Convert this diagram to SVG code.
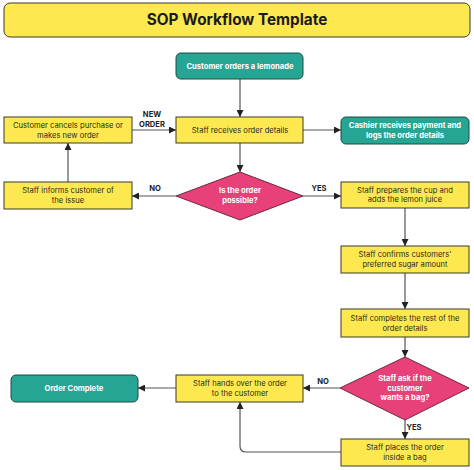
<svg xmlns="http://www.w3.org/2000/svg" width="474" height="470" viewBox="0 0 474 470">
<style>
.y{fill:#fde94f;stroke:#3a3a2a;stroke-width:1}
.t{fill:#26a595;stroke:#1f4a44;stroke-width:1}
.d{fill:#e8417a;stroke:#6a2a3a;stroke-width:1}
text{font-family:Inter,"Liberation Sans",sans-serif;text-anchor:middle}
.n{font-size:7.6px;fill:#2a2a1a}
.w{font-size:7.6px;fill:#ffffff;font-weight:bold}
.l{font-size:7.6px;fill:#222;font-weight:bold}
.c{fill:none;stroke:#555;stroke-width:1.2}
</style>
<defs>
<marker id="a" viewBox="0 0 10 10" refX="10" refY="5" markerWidth="7" markerHeight="7" markerUnits="userSpaceOnUse" orient="auto">
<path d="M0,0 L10,5 L0,10 z" fill="#222"/>
</marker>
</defs>
<g id="title">
<rect x="4" y="3" width="466" height="34" rx="6" class="y"/>
<text x="237" y="25" style="font-size:15.3px;font-weight:bold;fill:#1a1a1a">SOP Workflow Template</text>
</g>
<g id="connectors">
<path class="c" marker-end="url(#a)" d="M240,79 V117"/>
<path class="c" marker-end="url(#a)" d="M132,130 H176"/>
<path class="c" marker-end="url(#a)" d="M303,130 H341"/>
<path class="c" marker-end="url(#a)" d="M240,143 V172"/>
<path class="c" marker-end="url(#a)" d="M176,196 H132"/>
<path class="c" marker-end="url(#a)" d="M68,182 V143"/>
<path class="c" marker-end="url(#a)" d="M303,196 H341"/>
<path class="c" marker-end="url(#a)" d="M405,208 V246"/>
<path class="c" marker-end="url(#a)" d="M405,273 V309"/>
<path class="c" marker-end="url(#a)" d="M405,337 V357"/>
<path class="c" marker-end="url(#a)" d="M340,388 H303"/>
<path class="c" marker-end="url(#a)" d="M176,388 H138"/>
<path class="c" marker-end="url(#a)" d="M405,420 V439"/>
<path class="c" marker-end="url(#a)" d="M341,452 H246 Q240,452 240,446 V402"/>
<text class="l" x="152" y="117">NEW</text>
<text class="l" x="152" y="127">ORDER</text>
<text class="l" x="155" y="191">NO</text>
<text class="l" x="319" y="191">YES</text>
<text class="l" x="323" y="384">NO</text>
<text class="l" x="414" y="430">YES</text>
</g>
<g id="start">
<rect x="176" y="53" width="127" height="26" rx="5" class="t"/>
<text class="w" x="240" y="68.5">Customer orders a lemonade</text>
</g>
<g id="receive">
<rect x="176" y="117" width="127" height="26" class="y"/>
<text class="n" x="240" y="132.5">Staff receives order details</text>
</g>
<g id="cancel">
<rect x="4" y="117" width="128" height="26" class="y"/>
<text class="n" x="68" y="128">Customer cancels purchase or</text>
<text class="n" x="68" y="137.5">makes new order</text>
</g>
<g id="cashier">
<rect x="341" y="117" width="128" height="27" rx="5" class="t"/>
<text class="w" x="405" y="128">Cashier receives payment and</text>
<text class="w" x="405" y="137.5">logs the order details</text>
</g>
<g id="possible">
<polygon points="240,172 303,196 240,220 176,196" class="d"/>
<text class="w" x="240" y="193">Is the order</text>
<text class="w" x="240" y="202.5">possible?</text>
</g>
<g id="inform">
<rect x="4" y="182" width="128" height="27" class="y"/>
<text class="n" x="68" y="193">Staff informs customer of</text>
<text class="n" x="68" y="202.5">the issue</text>
</g>
<g id="prepare">
<rect x="341" y="182" width="128" height="26" class="y"/>
<text class="n" x="405" y="192.5">Staff prepares the cup and</text>
<text class="n" x="405" y="202">adds the lemon juice</text>
</g>
<g id="sugar">
<rect x="341" y="246" width="128" height="27" class="y"/>
<text class="n" x="405" y="257">Staff confirms customers'</text>
<text class="n" x="405" y="266.5">preferred sugar amount</text>
</g>
<g id="complete-details">
<rect x="341" y="309" width="128" height="28" class="y"/>
<text class="n" x="405" y="321">Staff completes the rest of the</text>
<text class="n" x="405" y="330.5">order details</text>
</g>
<g id="bag">
<polygon points="405,357 469,388 405,420 340,388" class="d"/>
<text class="w" x="405" y="381">Staff ask if the</text>
<text class="w" x="405" y="390.5">customer</text>
<text class="w" x="405" y="400">wants a bag?</text>
</g>
<g id="handover">
<rect x="176" y="375" width="127" height="27" class="y"/>
<text class="n" x="240" y="386">Staff hands over the order</text>
<text class="n" x="240" y="395.5">to the customer</text>
</g>
<g id="done">
<rect x="11" y="375" width="127" height="27" rx="5" class="t"/>
<text class="w" x="74" y="391">Order Complete</text>
</g>
<g id="place">
<rect x="341" y="439" width="128" height="27" class="y"/>
<text class="n" x="405" y="450">Staff places the order</text>
<text class="n" x="405" y="459.5">inside a bag</text>
</g>
</svg>
